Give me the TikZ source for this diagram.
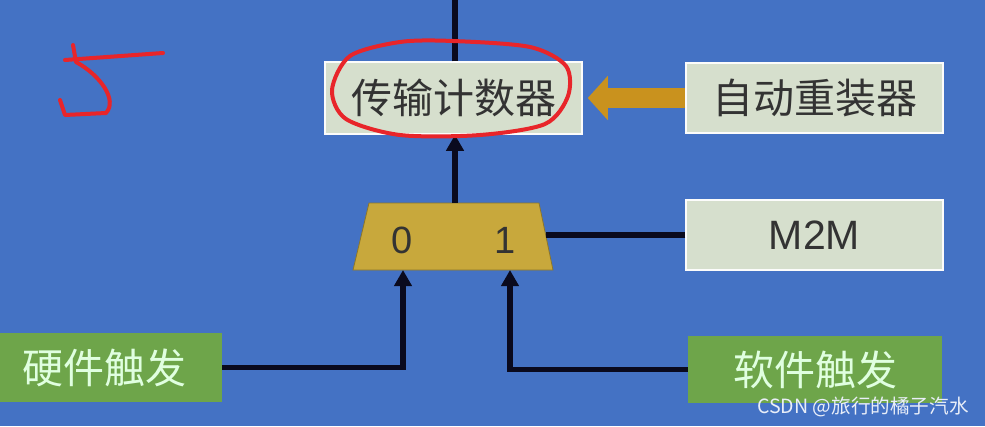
\documentclass[tikz,border=0pt]{standalone}
\usepackage{fontspec}
\setmainfont{Liberation Sans}
\newfontfamily\cjk{Noto Sans CJK SC}
\usetikzlibrary{arrows.meta}
\definecolor{slideblue}{RGB}{68,114,196}
\definecolor{boxgray}{RGB}{214,223,205}
\definecolor{trigreen}{RGB}{110,165,74}
\definecolor{muxgold}{RGB}{200,168,60}
\definecolor{reloadgold}{RGB}{201,146,30}
\definecolor{wire}{RGB}{10,10,30}
\definecolor{pen}{RGB}{232,37,42}
\tikzset{
  regbox/.style={fill=boxgray,draw=white!92!boxgray,line width=1.5pt,inner sep=0pt,
    font=\cjk\fontsize{41}{48}\selectfont,text=black!80},
  trigbox/.style={fill=trigreen,inner sep=0pt,text=white!88!green,
    font=\cjk\fontsize{41}{48}\selectfont},
  wireline/.style={draw=wire,line width=5.5pt},
  wirearrow/.style={wireline,-{Triangle[length=16pt,width=17pt]}},
}
\begin{document}
\begin{tikzpicture}[x=1pt,y=-1pt]
  \fill[slideblue] (0,0) rectangle (985,426);
  \useasboundingbox (0,0) rectangle (985,426);
  \node[regbox,minimum width=257pt,minimum height=72pt] (counter) at (453.5,98) {传输计数器};
  \node[regbox,minimum width=257pt,minimum height=70pt] (reload) at (814.5,98) {自动重装器};
  \node[regbox,minimum width=257pt,minimum height=70pt,font=\fontsize{41}{48}\selectfont] (m2m) at (814.5,235) {M2M};
  \node[trigbox,minimum width=234pt,minimum height=69pt] (hw) at (105,367.5) {硬件触发};
  \node[trigbox,minimum width=254pt,minimum height=67pt] (sw) at (815,369.5) {软件触发};
  \draw[fill=muxgold,draw=muxgold!70!black,line width=0.8pt] (369,203) -- (539,203) -- (553,270) -- (353,270) -- cycle;
  \node[font=\fontsize{38}{44}\selectfont,text=black!80] (sel0) at (402,240) {0};
  \node[font=\fontsize{38}{44}\selectfont,text=black!80] (sel1) at (505,240) {1};
  \coordinate (bus) at (455,0);
  \coordinate (muxtop) at (455,203);
  \coordinate (muxright) at (546,235);
  \coordinate (in0) at (403,270);
  \coordinate (in1) at (510,270);
  \draw[wireline] (counter.north -| bus) -- (bus);
  \draw[wirearrow] (muxtop) -- (counter.south -| muxtop);
  \draw[wireline] (m2m.west) -- (muxright);
  \draw[wirearrow] (hw.east) -| (in0);
  \draw[wirearrow] (sw.west) -| (in1);
  \draw[reloadgold,line width=20pt,-{Triangle[length=20pt,width=43pt]},shorten >=5pt] (reload.west) -- (counter.east);
  \draw[pen,line width=4pt,line cap=round,line join=round]
    plot[smooth cycle] coordinates {(453,41) (530,47) (566,66) (568,96) (545,124) (480,135)
      (400,135) (346,119) (332,90) (350,56) (400,42)};
  \draw[pen,line width=4pt,line cap=round] (163,53) -- (65,60);
  \draw[pen,line width=4pt,line cap=round,line join=round]
    (73,45) -- (76,62) .. controls (100,75) and (118,100) .. (106,113) -- (65,115) -- (60,100);
  \node[anchor=west,inner sep=0pt,text=white!88!slideblue,font=\cjk\fontsize{19.6}{22}\selectfont] (mark) at (757,407) {CSDN @旅行的橘子汽水};
\end{tikzpicture}
\end{document}
